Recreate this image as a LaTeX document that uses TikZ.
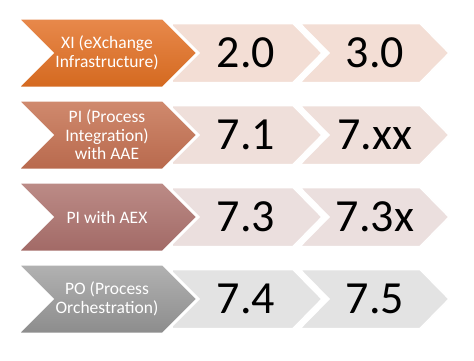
\documentclass[tikz,border=0pt]{standalone}
\usepackage{fontspec}
\setmainfont{Carlito}
\definecolor{orA}{HTML}{E8894C}
\definecolor{orB}{HTML}{D4691F}
\definecolor{brA}{HTML}{D08A6E}
\definecolor{brB}{HTML}{B8694D}
\definecolor{roA}{HTML}{BC8C87}
\definecolor{roB}{HTML}{A26966}
\definecolor{grA}{HTML}{B2B2B2}
\definecolor{grB}{HTML}{8C8C8C}
\definecolor{liA}{HTML}{F3DED5}
\definecolor{liB}{HTML}{EFDFDA}
\definecolor{liC}{HTML}{EBDFDE}
\definecolor{liD}{HTML}{E3E3E3}
\tikzset{
  bigchev/.style={draw=white, line width=3pt, line join=miter, shading=axis},
  lightchev/.style={draw=white, line width=1.5pt},
  lbl/.style={text=white, align=center, font=\fontsize{17.5}{18.5}\selectfont},
  num/.style={text=black, font=\fontsize{46}{46}\selectfont}
}
\begin{document}
\begin{tikzpicture}[x=1pt,y=1pt]
\fill[white] (0,0) rectangle (474,360);
\useasboundingbox (0,0) rectangle (474,360);
\foreach \cy/\ca/\cb/\cl/\lab/\na/\nb/\id in {
  307/orA/orB/liA/{XI (eXchange\\Infrastructure)}/2.0/3.0/r1,
  225/brA/brB/liB/{PI (Process\\Integration)\\with AAE}/7.1/7.xx/r2,
  143/roA/roB/liC/{PI with AEX}/7.3/7.3x/r3,
  61/grA/grB/liD/{PO (Process\\Orchestration)}/7.4/7.5/r4}{
  % light chevrons
  \path[lightchev, fill=\cl] (172,\cy+29.5) -- (293,\cy+29.5) -- (322,\cy) -- (293,\cy-29.5) -- (172,\cy-29.5) -- cycle;
  \path[lightchev, fill=\cl] (300,\cy+29.5) -- (420,\cy+29.5) -- (449,\cy) -- (420,\cy-29.5) -- (300,\cy-29.5) -- (329,\cy) -- cycle;
  % big chevron
  \path[bigchev, top color=\ca, bottom color=\cb] (17,\cy+35) -- (163,\cy+35) -- (198,\cy) -- (163,\cy-35) -- (17,\cy-35) -- (52,\cy) -- cycle;
  \node[lbl] (lab\id) at (107,\cy) {\lab};
  \node[num] (na\id) at (246,\cy) {\na};
  \node[num] (nb\id) at (375,\cy) {\nb};
}
\end{tikzpicture}
\end{document}
